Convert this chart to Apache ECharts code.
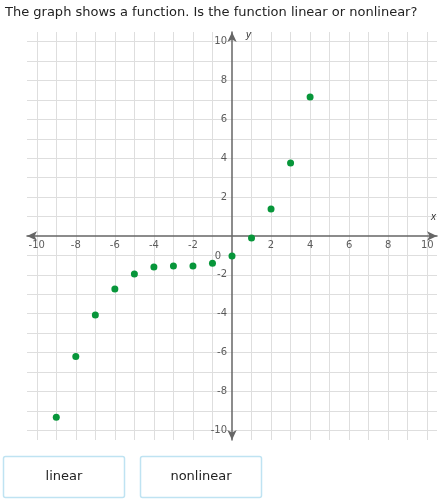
<!DOCTYPE html>
<html><head><meta charset="utf-8">
<script src="https://cdn.jsdelivr.net/npm/echarts@6/dist/echarts.min.js"></script>
<style>html,body{margin:0;padding:0;background:#fff}#c{width:441px;height:500px}</style>
</head><body><div id="c"></div>
<script>
const xValues = [-9,-8,-7,-6,-5,-4,-3,-2,-1,0,1,2,3,4];
const yValues = [-9.33,-6.2,-4.07,-2.73,-1.96,-1.6,-1.55,-1.55,-1.4,-1.03,-0.1,1.39,3.76,7.16];
const tickLabels = [-10,-8,-6,-4,-2,2,4,6,8,10];
const gridValues = [-10,-9,-8,-7,-6,-5,-4,-3,-2,-1,1,2,3,4,5,6,7,8,9,10];
const titleText = 'The graph shows a function. Is the function linear or nonlinear?';
const choices = ['linear','nonlinear'];

const chart = echarts.init(document.getElementById('c'));
const gridStyle = {color:'#dedede', width:1, type:'solid'};
const lineData = gridValues.map(v=>({xAxis:v})).concat(gridValues.map(v=>({yAxis:v})));
const lblStyle = {color:'#333', fontSize:10, fontFamily:'Verdana, DejaVu Sans'};
const axisCommon = {
  type:'value', min:-10.5, max:10.5,
  splitLine:{show:false},
  axisLine:{onZero:true, lineStyle:{color:'#666', width:1.5}, symbol:['arrow','arrow'], symbolSize:[7,10]},
  axisTick:{show:false},
  axisLabel:{show:false}
};
chart.setOption({
  animation:false,
  title:{text:titleText, left:0, top:1, textStyle:{fontSize:13, fontWeight:'normal', color:'#222', fontFamily:'Verdana, DejaVu Sans'}},
  grid:{left:27, right:4, top:32, bottom:60},
  xAxis:Object.assign({}, axisCommon, {
    name:'x', nameLocation:'end', nameGap:-6, nameTextStyle:{fontStyle:'italic', color:'#333', fontSize:10, verticalAlign:'bottom', padding:[0,0,14,0]}
  }),
  yAxis:Object.assign({}, axisCommon, {
    name:'y', nameLocation:'end', nameGap:-8, nameTextStyle:{fontStyle:'italic', color:'#333', fontSize:10, align:'left', padding:[0,0,0,14]}
  }),
  series:[{
    type:'scatter', symbolSize:7, z:5,
    itemStyle:{color:'#07963a', opacity:1},
    data:xValues.map((x,i)=>[x,yValues[i]]),
    markLine:{silent:true, symbol:'none', label:{show:false}, lineStyle:gridStyle, z:0, data:lineData}
  },{
    type:'scatter', symbolSize:0, silent:true,
    data:tickLabels.map(v=>[v,0]),
    label:Object.assign({show:true, position:'bottom', distance:4, formatter:p=>String(p.value[0])}, lblStyle)
  },{
    type:'scatter', symbolSize:0, silent:true,
    data:tickLabels.map(v=>[0,v]),
    label:Object.assign({show:true, position:'left', distance:5, formatter:p=>String(p.value[1])}, lblStyle)
  },{
    type:'scatter', symbolSize:0, silent:true,
    data:[[0,0]],
    label:Object.assign({show:true, position:'insideTopRight', offset:[-6,10], formatter:'0'}, lblStyle)
  }],
  graphic:[
    {type:'rect', shape:{x:3.5,y:456.5,width:121,height:41,r:2}, style:{fill:'#fff', stroke:'#bfe3f2', lineWidth:1.5}},
    {type:'text', x:64, y:477, style:{text:choices[0], align:'center', verticalAlign:'middle', fontSize:13, fill:'#222', fontFamily:'Verdana, DejaVu Sans'}},
    {type:'rect', shape:{x:140.5,y:456.5,width:121,height:41,r:2}, style:{fill:'#fff', stroke:'#bfe3f2', lineWidth:1.5}},
    {type:'text', x:201, y:477, style:{text:choices[1], align:'center', verticalAlign:'middle', fontSize:13, fill:'#222', fontFamily:'Verdana, DejaVu Sans'}}
  ]
});
</script></body></html>
